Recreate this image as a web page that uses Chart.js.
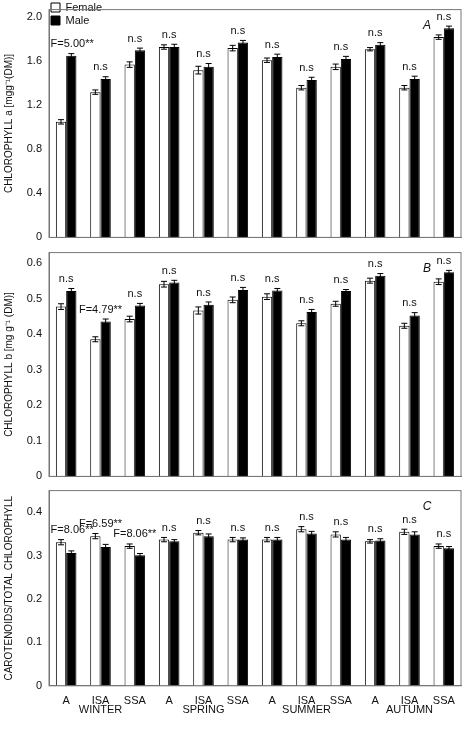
<!DOCTYPE html>
<html><head><meta charset="utf-8">
<script src="https://cdn.jsdelivr.net/npm/chart.js@4/dist/chart.umd.min.js"></script>
<style>body{margin:0;background:#fff}canvas{position:absolute;left:0}</style>
</head><body>
<div style="position:absolute;left:0;top:0;width:474px;height:247px"><canvas id="ca"></canvas></div>
<div style="position:absolute;left:0;top:243px;width:474px;height:243px"><canvas id="cb"></canvas></div>
<div style="position:absolute;left:0;top:481px;width:474px;height:248px"><canvas id="cc"></canvas></div>
<script>
const categories=['A','ISA','SSA','A','ISA','SSA','A','ISA','SSA','A','ISA','SSA'];
const seasons=['WINTER','SPRING','SUMMER','AUTUMN'];
const ticksA=[0,0.4,0.8,1.2,1.6,2.0];
const ticksB=[0,0.1,0.2,0.3,0.4,0.5,0.6];
const ticksC=[0,0.1,0.2,0.3,0.4];
const femaleA=[1.05,1.32,1.57,1.73,1.52,1.72,1.61,1.36,1.55,1.71,1.36,1.82];
const maleA=[1.65,1.44,1.70,1.73,1.55,1.77,1.64,1.43,1.62,1.75,1.44,1.90];
const errFA=[0.02,0.02,0.025,0.02,0.035,0.025,0.02,0.02,0.025,0.015,0.02,0.02];
const errMA=[0.02,0.02,0.02,0.025,0.03,0.02,0.025,0.025,0.025,0.02,0.025,0.02];
const femaleB=[0.478,0.386,0.443,0.541,0.467,0.497,0.506,0.431,0.486,0.551,0.424,0.548];
const maleB=[0.522,0.436,0.481,0.546,0.483,0.525,0.523,0.463,0.522,0.565,0.453,0.575];
const errFB=[0.008,0.007,0.008,0.008,0.01,0.008,0.008,0.007,0.007,0.007,0.007,0.008];
const errMB=[0.007,0.007,0.006,0.006,0.008,0.007,0.006,0.007,0.004,0.006,0.008,0.005];
const femaleC=[0.331,0.345,0.322,0.337,0.353,0.337,0.337,0.361,0.349,0.333,0.355,0.322];
const maleC=[0.306,0.320,0.301,0.333,0.345,0.337,0.337,0.351,0.337,0.335,0.349,0.317];
const errFC=[0.006,0.006,0.005,0.005,0.005,0.005,0.005,0.006,0.006,0.004,0.006,0.005];
const errMC=[0.005,0.006,0.004,0.004,0.005,0.004,0.005,0.005,0.005,0.004,0.006,0.004];
const notesA=['F=5.00**','n.s','n.s','n.s','n.s','n.s','n.s','n.s','n.s','n.s','n.s','n.s'];
const notesB=['n.s','F=4.79**','n.s','n.s','n.s','n.s','n.s','n.s','n.s','n.s','n.s','n.s'];
const notesC=['F=8.06**','F=6.59**','F=8.06**','n.s','n.s','n.s','n.s','n.s','n.s','n.s','n.s','n.s'];
const FONT='"Liberation Sans", Arial, sans-serif';
Chart.defaults.font.family=FONT;Chart.defaults.color='#111';Chart.defaults.animation=false;

const extras={id:'extras',afterDatasetsDraw(ch,a,o){
  const c=ch.ctx,ya=ch.scales.y,ca=ch.chartArea;const cfg=ch.options.plugins.extras;
  c.save();c.strokeStyle='#000';c.lineWidth=1;
  [0,1].forEach(d=>{const meta=ch.getDatasetMeta(d);const errs=cfg.errs[d];
    meta.data.forEach((b,i)=>{const v=ch.data.datasets[d].data[i];const t=ya.getPixelForValue(v+errs[i]),bt=ya.getPixelForValue(v-errs[i]);
      c.beginPath();c.moveTo(b.x,t);c.lineTo(b.x,bt);c.moveTo(b.x-3,t);c.lineTo(b.x+3,t);c.moveTo(b.x-3,bt);c.lineTo(b.x+3,bt);c.stroke();});});
  c.fillStyle='#111';c.font='11px '+FONT;c.textAlign='center';c.textBaseline='bottom';
  cfg.notes.forEach((n,i)=>{const d0=ch.data.datasets[0].data[i]+cfg.errs[0][i],d1=ch.data.datasets[1].data[i]+cfg.errs[1][i];
    const top=Math.min(ya.getPixelForValue(d0),ya.getPixelForValue(d1));let x=ch.scales.x.getPixelForValue(i);
    if(i===0&&n.length>4)x+=6;
    c.fillText(n,x,top-4);});
  c.font='italic 12px '+FONT;c.fillText(cfg.letter,ca.right-34,ca.top+22);
  c.strokeStyle='#777';c.strokeRect(ca.left,ca.top,ca.right-ca.left,ca.bottom-ca.top);
  if(cfg.seasons){c.font='11px '+FONT;c.textBaseline='top';
    seasons.forEach((s,k)=>{const x=ch.scales.x.getPixelForValue(k*3+1);c.fillText(s,x,ca.bottom+19);});}
  c.restore();}};

function make(id,f,m,ef,em,notes,letter,max,tickVals,title,showX,legend){
  new Chart(document.getElementById(id),{type:'bar',plugins:[extras],
    data:{labels:categories,datasets:[
      {label:'Female',data:f,backgroundColor:'#fff',borderColor:'#000',borderWidth:1},
      {label:'Male',data:m,backgroundColor:'#000',borderColor:'#000',borderWidth:1}]},
    options:{responsive:true,maintainAspectRatio:false,
      layout:{padding:{top:4,right:13,bottom:showX?20:0,left:3}},
      datasets:{bar:{categoryPercentage:0.6,barPercentage:1}},
      plugins:{tooltip:{enabled:false},
        legend:{display:legend,position:'chartArea',align:'start',labels:{boxWidth:9,boxHeight:9,padding:2,font:{size:11},color:'#111'}},
        extras:{errs:[ef,em],notes,letter,seasons:showX}},
      scales:{
        x:{grid:{display:false,drawTicks:true},border:{color:'#777'},ticks:{display:showX,font:{size:11},color:'#111',padding:1}},
        y:{min:0,max:max,afterFit(s){s.width=46;},afterBuildTicks(s){s.ticks=tickVals.map(v=>({value:v}));},
          grid:{display:false,drawTicks:true,tickLength:4},border:{color:'#777'},
          ticks:{font:{size:11},color:'#111',callback:v=>v===0?'0':v.toFixed(1)},
          title:{display:true,text:title,font:{size:10},color:'#111',padding:0}}}}});
}
make('ca',femaleA,maleA,errFA,errMA,notesA,'A',2.07,ticksA,'CHLOROPHYLL a [mgg\u207B\u00B9(DM)]',false,true);
make('cb',femaleB,maleB,errFB,errMB,notesB,'B',0.63,ticksB,'CHLOROPHYLL b [mg g\u207B\u00B9 (DM)]',false,false);
make('cc',femaleC,maleC,errFC,errMC,notesC,'C',0.45,ticksC,'CAROTENOIDS/TOTAL CHLOROPHYLL',true,false);
</script></body></html>
